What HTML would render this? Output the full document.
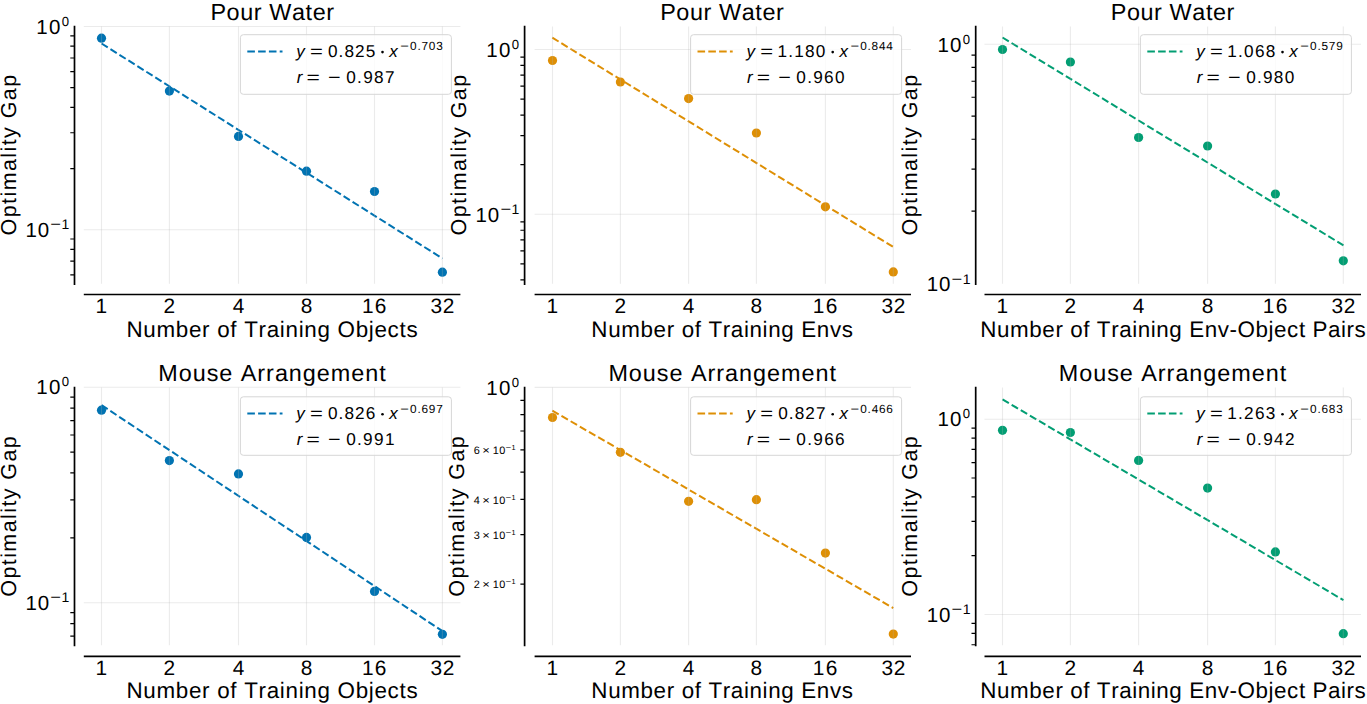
<!DOCTYPE html><html><head><meta charset="utf-8"><style>html,body{margin:0;padding:0;background:#fff;}svg{display:block;font-family:"Liberation Sans",sans-serif;font-kerning:none;text-rendering:geometricPrecision;}</style></head><body>
<svg width="1367" height="704" viewBox="0 0 1367 704">
<rect width="1367" height="704" fill="#fff"/>
<line x1="74.50" y1="25.70" x2="74.50" y2="285.10" stroke="#000" stroke-width="1.7"/>
<line x1="83.80" y1="294.50" x2="460.40" y2="294.50" stroke="#000" stroke-width="1.7"/>
<path d="M70.30 274.78H74.50M70.30 261.18H74.50M70.30 249.39H74.50M70.30 239.00H74.50M70.30 168.53H74.50M70.30 132.75H74.50M70.30 107.36H74.50M70.30 87.67H74.50M70.30 71.58H74.50M70.30 57.98H74.50M70.30 46.19H74.50M70.30 35.80H74.50" stroke="#000" stroke-width="1.2" fill="none"/>
<text x="36.24" y="33.70" font-size="20.50" textLength="24.06" lengthAdjust="spacing" fill="#000">10</text>
<text x="61.63" y="25.70" font-size="13.20" fill="#000">0</text>
<text x="25.44" y="236.90" font-size="20.50" textLength="23.66" lengthAdjust="spacing" fill="#000">10</text>
<text x="50.30" y="229.20" font-size="14.00" textLength="10.70" lengthAdjust="spacingAndGlyphs" fill="#000">−</text>
<text x="61.52" y="229.20" font-size="14.00" fill="#000">1</text>
<text x="95.40" y="312.80" font-size="20.90" fill="#000">1</text>
<text x="163.59" y="312.80" font-size="20.90" fill="#000">2</text>
<text x="232.75" y="312.80" font-size="20.90" fill="#000">4</text>
<text x="300.69" y="312.80" font-size="20.90" fill="#000">8</text>
<text x="361.91" y="312.80" font-size="20.90" textLength="24.51" lengthAdjust="spacing" fill="#000">16</text>
<text x="430.60" y="312.80" font-size="20.90" textLength="23.85" lengthAdjust="spacing" fill="#000">32</text>
<text x="126.46" y="336.70" font-size="22.40" textLength="291.15" lengthAdjust="spacing" fill="#000">Number of Training Objects</text>
<text x="210.38" y="20.00" font-size="23.40" textLength="123.71" lengthAdjust="spacing" fill="#000">Pour Water</text>
<g transform="translate(16.30,0) rotate(-90)"><text x="-235.42" y="0.00" font-size="21.50" textLength="160.52" lengthAdjust="spacing" fill="#000">Optimality Gap</text></g>
<line x1="101.50" y1="43.48" x2="442.50" y2="258.49" stroke="#0173b2" stroke-width="2" stroke-dasharray="7.4 3.2"/>
<circle cx="101.50" cy="38.20" r="4.6" fill="#0173b2"/><circle cx="169.40" cy="91.10" r="4.6" fill="#0173b2"/><circle cx="238.50" cy="136.40" r="4.6" fill="#0173b2"/><circle cx="306.50" cy="171.20" r="4.6" fill="#0173b2"/><circle cx="374.50" cy="191.50" r="4.6" fill="#0173b2"/><circle cx="442.40" cy="272.20" r="4.6" fill="#0173b2"/>
<line x1="101.50" y1="26.40" x2="101.50" y2="283.80" stroke="#b0b0b0" stroke-opacity="0.26" stroke-width="1.1"/><line x1="169.40" y1="26.40" x2="169.40" y2="283.80" stroke="#b0b0b0" stroke-opacity="0.26" stroke-width="1.1"/><line x1="238.50" y1="26.40" x2="238.50" y2="283.80" stroke="#b0b0b0" stroke-opacity="0.26" stroke-width="1.1"/><line x1="306.50" y1="26.40" x2="306.50" y2="283.80" stroke="#b0b0b0" stroke-opacity="0.26" stroke-width="1.1"/><line x1="374.50" y1="26.40" x2="374.50" y2="283.80" stroke="#b0b0b0" stroke-opacity="0.26" stroke-width="1.1"/><line x1="442.40" y1="26.40" x2="442.40" y2="283.80" stroke="#b0b0b0" stroke-opacity="0.26" stroke-width="1.1"/><line x1="83.80" y1="26.50" x2="460.40" y2="26.50" stroke="#b0b0b0" stroke-opacity="0.26" stroke-width="1.1"/><line x1="83.80" y1="229.70" x2="460.40" y2="229.70" stroke="#b0b0b0" stroke-opacity="0.26" stroke-width="1.1"/>
<rect x="240.40" y="34.70" width="211.00" height="59.60" rx="3" ry="3" fill="#fff" fill-opacity="0.8" stroke="#d6d6d6" stroke-width="1"/>
<line x1="247.30" y1="51.40" x2="282.50" y2="51.40" stroke="#0173b2" stroke-width="2" stroke-dasharray="7.6 3.2"/>
<text x="296.35" y="56.70" font-size="17.00" font-style="italic" fill="#000">y</text>
<text x="310.02" y="56.70" font-size="17.00" textLength="12.86" lengthAdjust="spacingAndGlyphs" fill="#000">=</text>
<text x="327.93" y="56.70" font-size="17.20" textLength="47.29" lengthAdjust="spacing" fill="#000">0.825</text>
<circle cx="382.50" cy="52.10" r="1.3" fill="#000"/>
<text x="389.19" y="56.70" font-size="17.00" font-style="italic" fill="#000">x</text>
<text x="400.27" y="50.40" font-size="11.80" textLength="8.65" lengthAdjust="spacingAndGlyphs" fill="#000">−</text>
<text x="410.04" y="50.40" font-size="11.80" textLength="32.68" lengthAdjust="spacing" fill="#000">0.703</text>
<text x="296.84" y="82.80" font-size="17.00" font-style="italic" fill="#000">r</text>
<text x="306.48" y="82.80" font-size="17.00" textLength="13.34" lengthAdjust="spacingAndGlyphs" fill="#000">=</text>
<text x="328.13" y="82.80" font-size="17.00" textLength="12.62" lengthAdjust="spacingAndGlyphs" fill="#000">−</text>
<text x="346.13" y="82.80" font-size="17.20" textLength="48.34" lengthAdjust="spacing" fill="#000">0.987</text>
<line x1="524.60" y1="25.70" x2="524.60" y2="285.10" stroke="#000" stroke-width="1.7"/>
<line x1="534.60" y1="294.50" x2="911.00" y2="294.50" stroke="#000" stroke-width="1.7"/>
<path d="M520.40 279.88H524.60M520.40 263.91H524.60M520.40 250.86H524.60M520.40 239.83H524.60M520.40 230.27H524.60M520.40 221.84H524.60M520.40 164.69H524.60M520.40 135.67H524.60M520.40 115.08H524.60M520.40 99.11H524.60M520.40 86.06H524.60M520.40 75.03H524.60M520.40 65.47H524.60M520.40 57.04H524.60" stroke="#000" stroke-width="1.2" fill="none"/>
<text x="486.34" y="56.70" font-size="20.50" textLength="24.06" lengthAdjust="spacing" fill="#000">10</text>
<text x="511.73" y="48.70" font-size="13.20" fill="#000">0</text>
<text x="475.54" y="221.50" font-size="20.50" textLength="23.66" lengthAdjust="spacing" fill="#000">10</text>
<text x="500.40" y="213.80" font-size="14.00" textLength="10.70" lengthAdjust="spacingAndGlyphs" fill="#000">−</text>
<text x="511.62" y="213.80" font-size="14.00" fill="#000">1</text>
<text x="546.40" y="312.80" font-size="20.90" fill="#000">1</text>
<text x="614.59" y="312.80" font-size="20.90" fill="#000">2</text>
<text x="682.85" y="312.80" font-size="20.90" fill="#000">4</text>
<text x="750.59" y="312.80" font-size="20.90" fill="#000">8</text>
<text x="812.81" y="312.80" font-size="20.90" textLength="24.51" lengthAdjust="spacing" fill="#000">16</text>
<text x="881.50" y="312.80" font-size="20.90" textLength="23.85" lengthAdjust="spacing" fill="#000">32</text>
<text x="591.36" y="336.70" font-size="22.40" textLength="261.55" lengthAdjust="spacing" fill="#000">Number of Training Envs</text>
<text x="660.18" y="20.00" font-size="23.40" textLength="123.61" lengthAdjust="spacing" fill="#000">Pour Water</text>
<g transform="translate(466.10,0) rotate(-90)"><text x="-235.42" y="0.00" font-size="21.50" textLength="160.52" lengthAdjust="spacing" fill="#000">Optimality Gap</text></g>
<line x1="552.30" y1="37.65" x2="893.30" y2="247.01" stroke="#de8f05" stroke-width="2" stroke-dasharray="7.4 3.2"/>
<circle cx="552.50" cy="60.50" r="4.6" fill="#de8f05"/><circle cx="620.40" cy="82.00" r="4.6" fill="#de8f05"/><circle cx="688.60" cy="98.60" r="4.6" fill="#de8f05"/><circle cx="756.40" cy="133.00" r="4.6" fill="#de8f05"/><circle cx="825.40" cy="206.80" r="4.6" fill="#de8f05"/><circle cx="893.30" cy="271.90" r="4.6" fill="#de8f05"/>
<line x1="552.50" y1="26.40" x2="552.50" y2="283.80" stroke="#b0b0b0" stroke-opacity="0.26" stroke-width="1.1"/><line x1="620.40" y1="26.40" x2="620.40" y2="283.80" stroke="#b0b0b0" stroke-opacity="0.26" stroke-width="1.1"/><line x1="688.60" y1="26.40" x2="688.60" y2="283.80" stroke="#b0b0b0" stroke-opacity="0.26" stroke-width="1.1"/><line x1="756.40" y1="26.40" x2="756.40" y2="283.80" stroke="#b0b0b0" stroke-opacity="0.26" stroke-width="1.1"/><line x1="825.40" y1="26.40" x2="825.40" y2="283.80" stroke="#b0b0b0" stroke-opacity="0.26" stroke-width="1.1"/><line x1="893.30" y1="26.40" x2="893.30" y2="283.80" stroke="#b0b0b0" stroke-opacity="0.26" stroke-width="1.1"/><line x1="534.60" y1="49.50" x2="911.00" y2="49.50" stroke="#b0b0b0" stroke-opacity="0.26" stroke-width="1.1"/><line x1="534.60" y1="214.30" x2="911.00" y2="214.30" stroke="#b0b0b0" stroke-opacity="0.26" stroke-width="1.1"/>
<rect x="690.60" y="34.70" width="211.00" height="59.60" rx="3" ry="3" fill="#fff" fill-opacity="0.8" stroke="#d6d6d6" stroke-width="1"/>
<line x1="697.50" y1="51.40" x2="732.70" y2="51.40" stroke="#de8f05" stroke-width="2" stroke-dasharray="7.6 3.2"/>
<text x="746.55" y="56.70" font-size="17.00" font-style="italic" fill="#000">y</text>
<text x="760.22" y="56.70" font-size="17.00" textLength="12.86" lengthAdjust="spacingAndGlyphs" fill="#000">=</text>
<text x="777.49" y="56.70" font-size="17.20" textLength="47.88" lengthAdjust="spacing" fill="#000">1.180</text>
<circle cx="832.70" cy="52.10" r="1.3" fill="#000"/>
<text x="839.39" y="56.70" font-size="17.00" font-style="italic" fill="#000">x</text>
<text x="850.47" y="50.40" font-size="11.80" textLength="8.65" lengthAdjust="spacingAndGlyphs" fill="#000">−</text>
<text x="860.24" y="50.40" font-size="11.80" textLength="32.51" lengthAdjust="spacing" fill="#000">0.844</text>
<text x="747.04" y="82.80" font-size="17.00" font-style="italic" fill="#000">r</text>
<text x="756.68" y="82.80" font-size="17.00" textLength="13.34" lengthAdjust="spacingAndGlyphs" fill="#000">=</text>
<text x="778.33" y="82.80" font-size="17.00" textLength="12.62" lengthAdjust="spacingAndGlyphs" fill="#000">−</text>
<text x="796.33" y="82.80" font-size="17.20" textLength="48.14" lengthAdjust="spacing" fill="#000">0.960</text>
<line x1="975.70" y1="25.70" x2="975.70" y2="285.10" stroke="#000" stroke-width="1.7"/>
<line x1="984.50" y1="294.50" x2="1361.00" y2="294.50" stroke="#000" stroke-width="1.7"/>
<path d="M971.50 211.07H975.70M971.50 169.06H975.70M971.50 139.25H975.70M971.50 116.13H975.70M971.50 97.23H975.70M971.50 81.26H975.70M971.50 67.42H975.70M971.50 55.22H975.70" stroke="#000" stroke-width="1.2" fill="none"/>
<text x="937.44" y="51.50" font-size="20.50" textLength="24.06" lengthAdjust="spacing" fill="#000">10</text>
<text x="962.83" y="43.50" font-size="13.20" fill="#000">0</text>
<text x="926.64" y="291.30" font-size="20.50" textLength="23.66" lengthAdjust="spacing" fill="#000">10</text>
<text x="951.50" y="283.60" font-size="14.00" textLength="10.70" lengthAdjust="spacingAndGlyphs" fill="#000">−</text>
<text x="962.72" y="283.60" font-size="14.00" fill="#000">1</text>
<text x="996.40" y="312.80" font-size="20.90" fill="#000">1</text>
<text x="1064.59" y="312.80" font-size="20.90" fill="#000">2</text>
<text x="1132.85" y="312.80" font-size="20.90" fill="#000">4</text>
<text x="1201.79" y="312.80" font-size="20.90" fill="#000">8</text>
<text x="1262.81" y="312.80" font-size="20.90" textLength="24.51" lengthAdjust="spacing" fill="#000">16</text>
<text x="1331.50" y="312.80" font-size="20.90" textLength="23.85" lengthAdjust="spacing" fill="#000">32</text>
<text x="980.36" y="336.70" font-size="22.40" textLength="385.45" lengthAdjust="spacing" fill="#000">Number of Training Env-Object Pairs</text>
<text x="1110.68" y="20.00" font-size="23.40" textLength="123.71" lengthAdjust="spacing" fill="#000">Pour Water</text>
<g transform="translate(916.50,0) rotate(-90)"><text x="-235.42" y="0.00" font-size="21.50" textLength="160.52" lengthAdjust="spacing" fill="#000">Optimality Gap</text></g>
<line x1="1002.50" y1="37.48" x2="1343.50" y2="245.42" stroke="#029e73" stroke-width="2" stroke-dasharray="7.4 3.2"/>
<circle cx="1002.50" cy="49.50" r="4.6" fill="#029e73"/><circle cx="1070.40" cy="62.00" r="4.6" fill="#029e73"/><circle cx="1138.60" cy="137.50" r="4.6" fill="#029e73"/><circle cx="1207.60" cy="146.00" r="4.6" fill="#029e73"/><circle cx="1275.40" cy="194.00" r="4.6" fill="#029e73"/><circle cx="1343.30" cy="260.80" r="4.6" fill="#029e73"/>
<line x1="1002.50" y1="26.40" x2="1002.50" y2="283.80" stroke="#b0b0b0" stroke-opacity="0.26" stroke-width="1.1"/><line x1="1070.40" y1="26.40" x2="1070.40" y2="283.80" stroke="#b0b0b0" stroke-opacity="0.26" stroke-width="1.1"/><line x1="1138.60" y1="26.40" x2="1138.60" y2="283.80" stroke="#b0b0b0" stroke-opacity="0.26" stroke-width="1.1"/><line x1="1207.60" y1="26.40" x2="1207.60" y2="283.80" stroke="#b0b0b0" stroke-opacity="0.26" stroke-width="1.1"/><line x1="1275.40" y1="26.40" x2="1275.40" y2="283.80" stroke="#b0b0b0" stroke-opacity="0.26" stroke-width="1.1"/><line x1="1343.30" y1="26.40" x2="1343.30" y2="283.80" stroke="#b0b0b0" stroke-opacity="0.26" stroke-width="1.1"/><line x1="984.50" y1="44.30" x2="1361.00" y2="44.30" stroke="#b0b0b0" stroke-opacity="0.26" stroke-width="1.1"/>
<rect x="1140.40" y="34.70" width="211.00" height="59.60" rx="3" ry="3" fill="#fff" fill-opacity="0.8" stroke="#d6d6d6" stroke-width="1"/>
<line x1="1147.30" y1="51.40" x2="1182.50" y2="51.40" stroke="#029e73" stroke-width="2" stroke-dasharray="7.6 3.2"/>
<text x="1196.35" y="56.70" font-size="17.00" font-style="italic" fill="#000">y</text>
<text x="1210.02" y="56.70" font-size="17.00" textLength="12.86" lengthAdjust="spacingAndGlyphs" fill="#000">=</text>
<text x="1227.29" y="56.70" font-size="17.20" textLength="47.96" lengthAdjust="spacing" fill="#000">1.068</text>
<circle cx="1282.50" cy="52.10" r="1.3" fill="#000"/>
<text x="1289.19" y="56.70" font-size="17.00" font-style="italic" fill="#000">x</text>
<text x="1300.27" y="50.40" font-size="11.80" textLength="8.65" lengthAdjust="spacingAndGlyphs" fill="#000">−</text>
<text x="1310.04" y="50.40" font-size="11.80" textLength="32.72" lengthAdjust="spacing" fill="#000">0.579</text>
<text x="1196.84" y="82.80" font-size="17.00" font-style="italic" fill="#000">r</text>
<text x="1206.48" y="82.80" font-size="17.00" textLength="13.34" lengthAdjust="spacingAndGlyphs" fill="#000">=</text>
<text x="1228.13" y="82.80" font-size="17.00" textLength="12.62" lengthAdjust="spacingAndGlyphs" fill="#000">−</text>
<text x="1246.13" y="82.80" font-size="17.20" textLength="48.14" lengthAdjust="spacing" fill="#000">0.980</text>
<line x1="74.50" y1="386.80" x2="74.50" y2="646.30" stroke="#000" stroke-width="1.7"/>
<line x1="83.80" y1="656.40" x2="460.40" y2="656.40" stroke="#000" stroke-width="1.7"/>
<path d="M70.30 636.08H74.50M70.30 623.58H74.50M70.30 612.56H74.50M70.30 537.83H74.50M70.30 499.88H74.50M70.30 472.96H74.50M70.30 452.07H74.50M70.30 435.01H74.50M70.30 420.58H74.50M70.30 408.08H74.50M70.30 397.06H74.50" stroke="#000" stroke-width="1.2" fill="none"/>
<text x="36.24" y="394.40" font-size="20.50" textLength="24.06" lengthAdjust="spacing" fill="#000">10</text>
<text x="61.63" y="386.40" font-size="13.20" fill="#000">0</text>
<text x="25.44" y="609.90" font-size="20.50" textLength="23.66" lengthAdjust="spacing" fill="#000">10</text>
<text x="50.30" y="602.20" font-size="14.00" textLength="10.70" lengthAdjust="spacingAndGlyphs" fill="#000">−</text>
<text x="61.52" y="602.20" font-size="14.00" fill="#000">1</text>
<text x="95.40" y="674.50" font-size="20.90" fill="#000">1</text>
<text x="163.59" y="674.50" font-size="20.90" fill="#000">2</text>
<text x="232.75" y="674.50" font-size="20.90" fill="#000">4</text>
<text x="300.69" y="674.50" font-size="20.90" fill="#000">8</text>
<text x="361.91" y="674.50" font-size="20.90" textLength="24.51" lengthAdjust="spacing" fill="#000">16</text>
<text x="430.60" y="674.50" font-size="20.90" textLength="23.85" lengthAdjust="spacing" fill="#000">32</text>
<text x="126.46" y="698.20" font-size="22.40" textLength="291.15" lengthAdjust="spacing" fill="#000">Number of Training Objects</text>
<text x="158.18" y="381.30" font-size="23.40" textLength="227.59" lengthAdjust="spacing" fill="#000">Mouse Arrangement</text>
<g transform="translate(16.30,0) rotate(-90)"><text x="-596.72" y="0.00" font-size="21.50" textLength="160.52" lengthAdjust="spacing" fill="#000">Optimality Gap</text></g>
<line x1="101.50" y1="405.09" x2="442.50" y2="631.17" stroke="#0173b2" stroke-width="2" stroke-dasharray="7.4 3.2"/>
<circle cx="101.50" cy="410.20" r="4.6" fill="#0173b2"/><circle cx="169.40" cy="460.60" r="4.6" fill="#0173b2"/><circle cx="238.50" cy="473.90" r="4.6" fill="#0173b2"/><circle cx="306.50" cy="537.40" r="4.6" fill="#0173b2"/><circle cx="374.50" cy="591.40" r="4.6" fill="#0173b2"/><circle cx="442.40" cy="634.30" r="4.6" fill="#0173b2"/>
<line x1="101.50" y1="387.40" x2="101.50" y2="645.30" stroke="#b0b0b0" stroke-opacity="0.26" stroke-width="1.1"/><line x1="169.40" y1="387.40" x2="169.40" y2="645.30" stroke="#b0b0b0" stroke-opacity="0.26" stroke-width="1.1"/><line x1="238.50" y1="387.40" x2="238.50" y2="645.30" stroke="#b0b0b0" stroke-opacity="0.26" stroke-width="1.1"/><line x1="306.50" y1="387.40" x2="306.50" y2="645.30" stroke="#b0b0b0" stroke-opacity="0.26" stroke-width="1.1"/><line x1="374.50" y1="387.40" x2="374.50" y2="645.30" stroke="#b0b0b0" stroke-opacity="0.26" stroke-width="1.1"/><line x1="442.40" y1="387.40" x2="442.40" y2="645.30" stroke="#b0b0b0" stroke-opacity="0.26" stroke-width="1.1"/><line x1="83.80" y1="387.20" x2="460.40" y2="387.20" stroke="#b0b0b0" stroke-opacity="0.26" stroke-width="1.1"/><line x1="83.80" y1="602.70" x2="460.40" y2="602.70" stroke="#b0b0b0" stroke-opacity="0.26" stroke-width="1.1"/>
<rect x="240.40" y="396.80" width="211.00" height="58.50" rx="3" ry="3" fill="#fff" fill-opacity="0.8" stroke="#d6d6d6" stroke-width="1"/>
<line x1="247.30" y1="413.50" x2="282.50" y2="413.50" stroke="#0173b2" stroke-width="2" stroke-dasharray="7.6 3.2"/>
<text x="296.35" y="418.80" font-size="17.00" font-style="italic" fill="#000">y</text>
<text x="310.02" y="418.80" font-size="17.00" textLength="12.86" lengthAdjust="spacingAndGlyphs" fill="#000">=</text>
<text x="327.93" y="418.80" font-size="17.20" textLength="47.33" lengthAdjust="spacing" fill="#000">0.826</text>
<circle cx="382.50" cy="414.20" r="1.3" fill="#000"/>
<text x="389.19" y="418.80" font-size="17.00" font-style="italic" fill="#000">x</text>
<text x="400.27" y="412.50" font-size="11.80" textLength="8.65" lengthAdjust="spacingAndGlyphs" fill="#000">−</text>
<text x="410.04" y="412.50" font-size="11.80" textLength="32.75" lengthAdjust="spacing" fill="#000">0.697</text>
<text x="296.84" y="444.90" font-size="17.00" font-style="italic" fill="#000">r</text>
<text x="306.48" y="444.90" font-size="17.00" textLength="13.34" lengthAdjust="spacingAndGlyphs" fill="#000">=</text>
<text x="328.13" y="444.90" font-size="17.00" textLength="12.62" lengthAdjust="spacingAndGlyphs" fill="#000">−</text>
<text x="346.13" y="444.90" font-size="17.20" textLength="48.31" lengthAdjust="spacing" fill="#000">0.991</text>
<line x1="524.60" y1="386.80" x2="524.60" y2="646.30" stroke="#000" stroke-width="1.7"/>
<line x1="534.60" y1="656.40" x2="911.00" y2="656.40" stroke="#000" stroke-width="1.7"/>
<path d="M520.40 584.16H524.60M520.40 534.59H524.60M520.40 499.42H524.60M520.40 472.14H524.60M520.40 449.85H524.60M520.40 431.00H524.60M520.40 414.68H524.60M520.40 400.28H524.60" stroke="#000" stroke-width="1.2" fill="none"/>
<text x="486.34" y="394.60" font-size="20.50" textLength="24.06" lengthAdjust="spacing" fill="#000">10</text>
<text x="511.73" y="386.60" font-size="13.20" fill="#000">0</text>
<text x="473.68" y="453.95" font-size="10.90" fill="#000">6</text>
<text x="482.30" y="453.95" font-size="10.90" textLength="7.60" lengthAdjust="spacingAndGlyphs" fill="#000">×</text>
<text x="492.77" y="453.95" font-size="10.90" textLength="12.56" lengthAdjust="spacing" fill="#000">10</text>
<text x="505.51" y="449.95" font-size="7.30" textLength="5.77" lengthAdjust="spacingAndGlyphs" fill="#000">−</text>
<text x="511.42" y="449.95" font-size="7.30" fill="#000">1</text>
<text x="473.75" y="503.52" font-size="10.90" fill="#000">4</text>
<text x="482.30" y="503.52" font-size="10.90" textLength="7.60" lengthAdjust="spacingAndGlyphs" fill="#000">×</text>
<text x="492.77" y="503.52" font-size="10.90" textLength="12.56" lengthAdjust="spacing" fill="#000">10</text>
<text x="505.51" y="499.52" font-size="7.30" textLength="5.77" lengthAdjust="spacingAndGlyphs" fill="#000">−</text>
<text x="511.42" y="499.52" font-size="7.30" fill="#000">1</text>
<text x="473.75" y="538.69" font-size="10.90" fill="#000">3</text>
<text x="482.30" y="538.69" font-size="10.90" textLength="7.60" lengthAdjust="spacingAndGlyphs" fill="#000">×</text>
<text x="492.77" y="538.69" font-size="10.90" textLength="12.56" lengthAdjust="spacing" fill="#000">10</text>
<text x="505.51" y="534.69" font-size="7.30" textLength="5.77" lengthAdjust="spacingAndGlyphs" fill="#000">−</text>
<text x="511.42" y="534.69" font-size="7.30" fill="#000">1</text>
<text x="473.72" y="588.26" font-size="10.90" fill="#000">2</text>
<text x="482.30" y="588.26" font-size="10.90" textLength="7.60" lengthAdjust="spacingAndGlyphs" fill="#000">×</text>
<text x="492.77" y="588.26" font-size="10.90" textLength="12.56" lengthAdjust="spacing" fill="#000">10</text>
<text x="505.51" y="584.26" font-size="7.30" textLength="5.77" lengthAdjust="spacingAndGlyphs" fill="#000">−</text>
<text x="511.42" y="584.26" font-size="7.30" fill="#000">1</text>
<text x="546.40" y="674.50" font-size="20.90" fill="#000">1</text>
<text x="614.59" y="674.50" font-size="20.90" fill="#000">2</text>
<text x="682.85" y="674.50" font-size="20.90" fill="#000">4</text>
<text x="750.59" y="674.50" font-size="20.90" fill="#000">8</text>
<text x="812.81" y="674.50" font-size="20.90" textLength="24.51" lengthAdjust="spacing" fill="#000">16</text>
<text x="881.50" y="674.50" font-size="20.90" textLength="23.85" lengthAdjust="spacing" fill="#000">32</text>
<text x="591.36" y="698.20" font-size="22.40" textLength="261.55" lengthAdjust="spacing" fill="#000">Number of Training Envs</text>
<text x="608.38" y="381.30" font-size="23.40" textLength="227.59" lengthAdjust="spacing" fill="#000">Mouse Arrangement</text>
<g transform="translate(464.40,0) rotate(-90)"><text x="-596.72" y="0.00" font-size="21.50" textLength="160.52" lengthAdjust="spacing" fill="#000">Optimality Gap</text></g>
<line x1="552.30" y1="410.62" x2="893.30" y2="608.07" stroke="#de8f05" stroke-width="2" stroke-dasharray="7.4 3.2"/>
<circle cx="552.50" cy="417.50" r="4.6" fill="#de8f05"/><circle cx="620.40" cy="452.30" r="4.6" fill="#de8f05"/><circle cx="688.60" cy="501.30" r="4.6" fill="#de8f05"/><circle cx="756.40" cy="499.70" r="4.6" fill="#de8f05"/><circle cx="825.40" cy="553.10" r="4.6" fill="#de8f05"/><circle cx="893.30" cy="634.10" r="4.6" fill="#de8f05"/>
<line x1="552.50" y1="387.40" x2="552.50" y2="645.30" stroke="#b0b0b0" stroke-opacity="0.26" stroke-width="1.1"/><line x1="620.40" y1="387.40" x2="620.40" y2="645.30" stroke="#b0b0b0" stroke-opacity="0.26" stroke-width="1.1"/><line x1="688.60" y1="387.40" x2="688.60" y2="645.30" stroke="#b0b0b0" stroke-opacity="0.26" stroke-width="1.1"/><line x1="756.40" y1="387.40" x2="756.40" y2="645.30" stroke="#b0b0b0" stroke-opacity="0.26" stroke-width="1.1"/><line x1="825.40" y1="387.40" x2="825.40" y2="645.30" stroke="#b0b0b0" stroke-opacity="0.26" stroke-width="1.1"/><line x1="893.30" y1="387.40" x2="893.30" y2="645.30" stroke="#b0b0b0" stroke-opacity="0.26" stroke-width="1.1"/><line x1="534.60" y1="387.40" x2="911.00" y2="387.40" stroke="#b0b0b0" stroke-opacity="0.26" stroke-width="1.1"/>
<rect x="690.60" y="396.80" width="211.00" height="58.50" rx="3" ry="3" fill="#fff" fill-opacity="0.8" stroke="#d6d6d6" stroke-width="1"/>
<line x1="697.50" y1="413.50" x2="732.70" y2="413.50" stroke="#de8f05" stroke-width="2" stroke-dasharray="7.6 3.2"/>
<text x="746.55" y="418.80" font-size="17.00" font-style="italic" fill="#000">y</text>
<text x="760.22" y="418.80" font-size="17.00" textLength="12.86" lengthAdjust="spacingAndGlyphs" fill="#000">=</text>
<text x="778.13" y="418.80" font-size="17.20" textLength="47.44" lengthAdjust="spacing" fill="#000">0.827</text>
<circle cx="832.70" cy="414.20" r="1.3" fill="#000"/>
<text x="839.39" y="418.80" font-size="17.00" font-style="italic" fill="#000">x</text>
<text x="850.47" y="412.50" font-size="11.80" textLength="8.65" lengthAdjust="spacingAndGlyphs" fill="#000">−</text>
<text x="860.24" y="412.50" font-size="11.80" textLength="32.68" lengthAdjust="spacing" fill="#000">0.466</text>
<text x="747.04" y="444.90" font-size="17.00" font-style="italic" fill="#000">r</text>
<text x="756.68" y="444.90" font-size="17.00" textLength="13.34" lengthAdjust="spacingAndGlyphs" fill="#000">=</text>
<text x="778.33" y="444.90" font-size="17.00" textLength="12.62" lengthAdjust="spacingAndGlyphs" fill="#000">−</text>
<text x="796.33" y="444.90" font-size="17.20" textLength="48.23" lengthAdjust="spacing" fill="#000">0.966</text>
<line x1="975.70" y1="386.80" x2="975.70" y2="646.30" stroke="#000" stroke-width="1.7"/>
<line x1="984.50" y1="656.40" x2="1361.00" y2="656.40" stroke="#000" stroke-width="1.7"/>
<path d="M971.50 644.75H975.70M971.50 633.43H975.70M971.50 623.44H975.70M971.50 555.71H975.70M971.50 521.32H975.70M971.50 496.92H975.70M971.50 477.99H975.70M971.50 462.53H975.70M971.50 449.45H975.70M971.50 438.13H975.70M971.50 428.14H975.70" stroke="#000" stroke-width="1.2" fill="none"/>
<text x="937.44" y="426.40" font-size="20.50" textLength="24.06" lengthAdjust="spacing" fill="#000">10</text>
<text x="962.83" y="418.40" font-size="13.20" fill="#000">0</text>
<text x="926.64" y="621.70" font-size="20.50" textLength="23.66" lengthAdjust="spacing" fill="#000">10</text>
<text x="951.50" y="614.00" font-size="14.00" textLength="10.70" lengthAdjust="spacingAndGlyphs" fill="#000">−</text>
<text x="962.72" y="614.00" font-size="14.00" fill="#000">1</text>
<text x="996.40" y="674.50" font-size="20.90" fill="#000">1</text>
<text x="1064.59" y="674.50" font-size="20.90" fill="#000">2</text>
<text x="1132.85" y="674.50" font-size="20.90" fill="#000">4</text>
<text x="1201.79" y="674.50" font-size="20.90" fill="#000">8</text>
<text x="1262.81" y="674.50" font-size="20.90" textLength="24.51" lengthAdjust="spacing" fill="#000">16</text>
<text x="1331.50" y="674.50" font-size="20.90" textLength="23.85" lengthAdjust="spacing" fill="#000">32</text>
<text x="980.36" y="698.20" font-size="22.40" textLength="385.45" lengthAdjust="spacing" fill="#000">Number of Training Env-Object Pairs</text>
<text x="1058.68" y="381.30" font-size="23.40" textLength="227.59" lengthAdjust="spacing" fill="#000">Mouse Arrangement</text>
<g transform="translate(916.50,0) rotate(-90)"><text x="-596.72" y="0.00" font-size="21.50" textLength="160.52" lengthAdjust="spacing" fill="#000">Optimality Gap</text></g>
<line x1="1002.50" y1="399.40" x2="1343.50" y2="600.17" stroke="#029e73" stroke-width="2" stroke-dasharray="7.4 3.2"/>
<circle cx="1002.50" cy="430.30" r="4.6" fill="#029e73"/><circle cx="1070.40" cy="432.50" r="4.6" fill="#029e73"/><circle cx="1138.60" cy="460.40" r="4.6" fill="#029e73"/><circle cx="1207.60" cy="488.10" r="4.6" fill="#029e73"/><circle cx="1275.40" cy="551.90" r="4.6" fill="#029e73"/><circle cx="1343.30" cy="633.70" r="4.6" fill="#029e73"/>
<line x1="1002.50" y1="387.40" x2="1002.50" y2="645.30" stroke="#b0b0b0" stroke-opacity="0.26" stroke-width="1.1"/><line x1="1070.40" y1="387.40" x2="1070.40" y2="645.30" stroke="#b0b0b0" stroke-opacity="0.26" stroke-width="1.1"/><line x1="1138.60" y1="387.40" x2="1138.60" y2="645.30" stroke="#b0b0b0" stroke-opacity="0.26" stroke-width="1.1"/><line x1="1207.60" y1="387.40" x2="1207.60" y2="645.30" stroke="#b0b0b0" stroke-opacity="0.26" stroke-width="1.1"/><line x1="1275.40" y1="387.40" x2="1275.40" y2="645.30" stroke="#b0b0b0" stroke-opacity="0.26" stroke-width="1.1"/><line x1="1343.30" y1="387.40" x2="1343.30" y2="645.30" stroke="#b0b0b0" stroke-opacity="0.26" stroke-width="1.1"/><line x1="984.50" y1="419.20" x2="1361.00" y2="419.20" stroke="#b0b0b0" stroke-opacity="0.26" stroke-width="1.1"/><line x1="984.50" y1="614.50" x2="1361.00" y2="614.50" stroke="#b0b0b0" stroke-opacity="0.26" stroke-width="1.1"/>
<rect x="1140.40" y="396.80" width="211.00" height="58.50" rx="3" ry="3" fill="#fff" fill-opacity="0.8" stroke="#d6d6d6" stroke-width="1"/>
<line x1="1147.30" y1="413.50" x2="1182.50" y2="413.50" stroke="#029e73" stroke-width="2" stroke-dasharray="7.6 3.2"/>
<text x="1196.35" y="418.80" font-size="17.00" font-style="italic" fill="#000">y</text>
<text x="1210.02" y="418.80" font-size="17.00" textLength="12.86" lengthAdjust="spacingAndGlyphs" fill="#000">=</text>
<text x="1227.29" y="418.80" font-size="17.20" textLength="47.97" lengthAdjust="spacing" fill="#000">1.263</text>
<circle cx="1282.50" cy="414.20" r="1.3" fill="#000"/>
<text x="1289.19" y="418.80" font-size="17.00" font-style="italic" fill="#000">x</text>
<text x="1300.27" y="412.50" font-size="11.80" textLength="8.65" lengthAdjust="spacingAndGlyphs" fill="#000">−</text>
<text x="1310.04" y="412.50" font-size="11.80" textLength="32.68" lengthAdjust="spacing" fill="#000">0.683</text>
<text x="1196.84" y="444.90" font-size="17.00" font-style="italic" fill="#000">r</text>
<text x="1206.48" y="444.90" font-size="17.00" textLength="13.34" lengthAdjust="spacingAndGlyphs" fill="#000">=</text>
<text x="1228.13" y="444.90" font-size="17.00" textLength="12.62" lengthAdjust="spacingAndGlyphs" fill="#000">−</text>
<text x="1246.13" y="444.90" font-size="17.20" textLength="48.34" lengthAdjust="spacing" fill="#000">0.942</text>
</svg></body></html>
